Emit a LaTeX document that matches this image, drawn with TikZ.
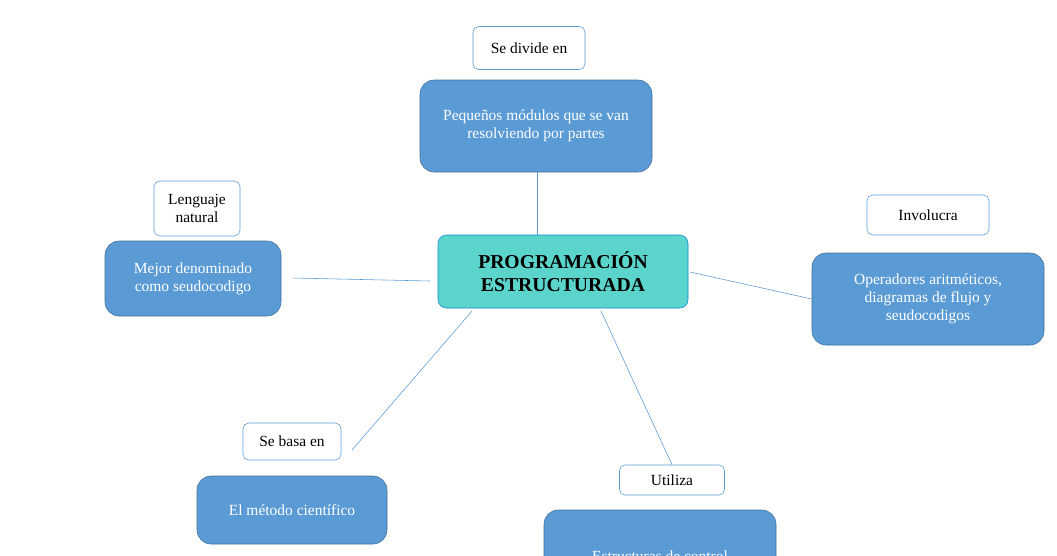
\documentclass[tikz,border=0pt]{standalone}
\usepackage{fontspec}
\setmainfont{Liberation Serif}
\usepackage{tikz}
\usetikzlibrary{positioning}
\definecolor{boxblue}{HTML}{5B9BD5}
\definecolor{boxedge}{HTML}{41719C}
\definecolor{teal}{HTML}{5BD5CB}
\tikzset{
  idea/.style={draw=boxedge,fill=boxblue,rounded corners=10pt,text=white,align=center,font=\fontsize{11}{13}\selectfont},
  tag/.style={draw=boxblue,fill=white,rounded corners=4pt,align=center,font=\fontsize{11}{13}\selectfont},
  link/.style={boxblue,thin}
}
\begin{document}
\begin{tikzpicture}[x=0.025cm,y=-0.025cm]
\useasboundingbox (0,0) rectangle (1057,555);
\clip (0,0) rectangle (1057,555);

% Center
\node[draw=cyan!70!blue,fill=teal,rounded corners=6pt,minimum width=250*0.025cm,minimum height=73*0.025cm,align=center,font=\fontsize{14}{16}\selectfont\bfseries] (prog) at (563,271.5) {PROGRAMACIÓN\\ESTRUCTURADA};

% Ideas
\node[idea,minimum width=232*0.025cm,minimum height=92*0.025cm] (modulos) at (536,126) {Pequeños módulos que se van\\resolviendo por partes};
\node[idea,minimum width=176*0.025cm,minimum height=75*0.025cm] (seudo) at (193,278.5) {Mejor denominado\\como seudocodigo};
\node[idea,minimum width=232*0.025cm,minimum height=92*0.025cm] (oper) at (928,299) {Operadores aritméticos,\\diagramas de flujo y\\seudocodigos};
\node[idea,minimum width=190*0.025cm,minimum height=68*0.025cm] (metodo) at (292,510) {El método científico};
\node[idea,minimum width=232*0.025cm,minimum height=92*0.025cm] (control) at (660,556) {Estructuras de control};

% Tags
\node[tag,minimum width=112*0.025cm,minimum height=43*0.025cm] (divide) at (529,48) {Se divide en};
\node[tag,minimum width=86*0.025cm,minimum height=55*0.025cm] (lenguaje) at (197,208.5) {Lenguaje\\natural};
\node[tag,minimum width=122*0.025cm,minimum height=40*0.025cm] (involucra) at (928,215) {Involucra};
\node[tag,minimum width=98*0.025cm,minimum height=37*0.025cm] (basa) at (292,441.5) {Se basa en};
\node[tag,minimum width=105*0.025cm,minimum height=30*0.025cm] (utiliza) at (672,480) {Utiliza};

% Links
\coordinate (l1) at (293,278);
\coordinate (l2) at (430,281);
\coordinate (b1) at (472,311);
\coordinate (b2) at (352,450);
\coordinate (c1) at (601,311);
\draw[link] (modulos.south-|537,0) -- (prog.north-|537,0);
\draw[link] (l1) -- (l2);
\draw[link] (690,272) coordinate (r1) -- (oper.west);
\draw[link] (b1) -- (b2);
\draw[link] (c1) -- (utiliza.north);
\end{tikzpicture}
\end{document}
